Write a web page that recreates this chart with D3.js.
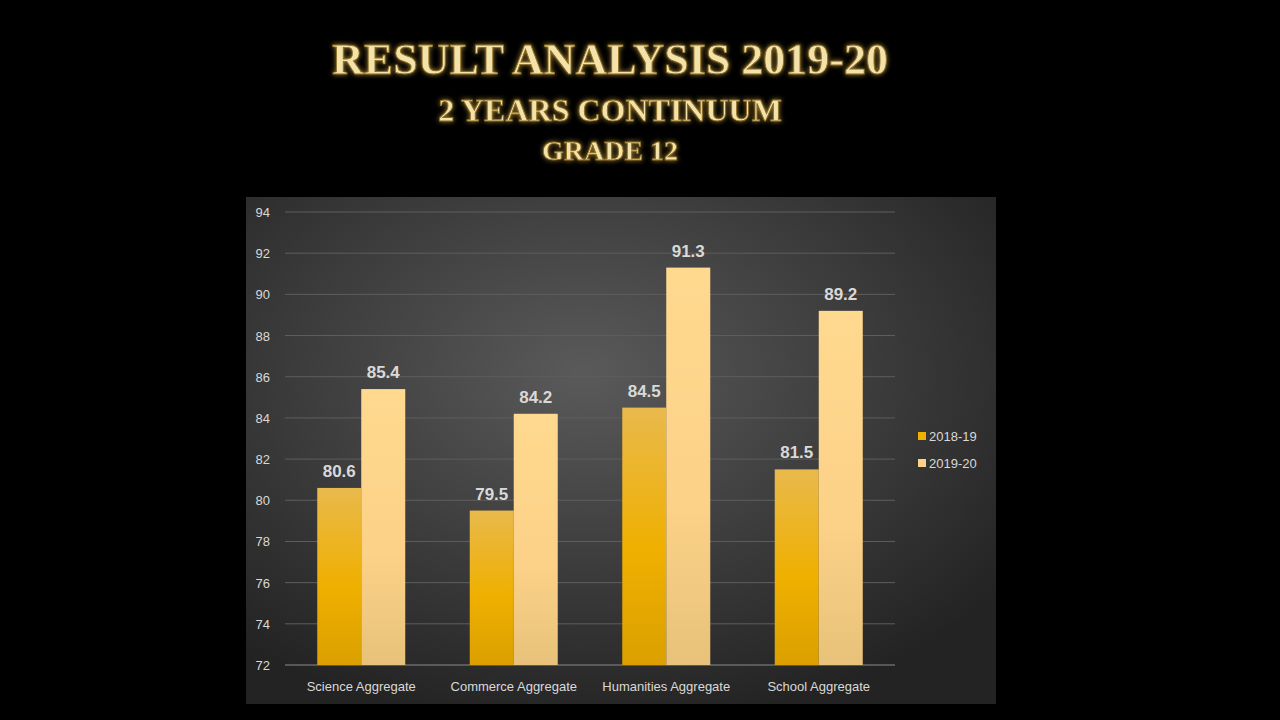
<!DOCTYPE html>
<html><head><meta charset="utf-8">
<script src="https://cdn.jsdelivr.net/npm/d3@7"></script>
<style>body{margin:0;background:#000}</style>
</head><body>
<svg width="1280" height="720"></svg>
<script>
// chart data
const categories = ["Science Aggregate", "Commerce Aggregate", "Humanities Aggregate", "School Aggregate"];
const seriesNames = ["2018-19", "2019-20"];
const values1819 = [80.6, 79.5, 84.5, 81.5];
const values1920 = [85.4, 84.2, 91.3, 89.2];
const yTicks = [72, 74, 76, 78, 80, 82, 84, 86, 88, 90, 92, 94];

const svg = d3.select("svg");
const defs = svg.append("defs");

const bg = defs.append("radialGradient").attr("id", "bg").attr("cx", "45%").attr("cy", "35%").attr("r", "70%");
bg.append("stop").attr("offset", "0%").attr("stop-color", "#5a5a5a");
bg.append("stop").attr("offset", "100%").attr("stop-color", "#232323");

const g1 = defs.append("linearGradient").attr("id", "g1").attr("x1", 0).attr("x2", 0).attr("y1", 0).attr("y2", 1);
g1.append("stop").attr("offset", "0%").attr("stop-color", "#e9b94c");
g1.append("stop").attr("offset", "55%").attr("stop-color", "#efb000");
g1.append("stop").attr("offset", "100%").attr("stop-color", "#dba000");
const g2 = defs.append("linearGradient").attr("id", "g2").attr("x1", 0).attr("x2", 0).attr("y1", 0).attr("y2", 1);
g2.append("stop").attr("offset", "0%").attr("stop-color", "#ffd98f");
g2.append("stop").attr("offset", "60%").attr("stop-color", "#fcd188");
g2.append("stop").attr("offset", "100%").attr("stop-color", "#e8c27a");

const glow = defs.append("filter").attr("id", "glow").attr("x", "-10%").attr("y", "-30%").attr("width", "120%").attr("height", "160%");
glow.append("feGaussianBlur").attr("stdDeviation", 2.5).attr("in", "SourceAlpha").attr("result", "b");
glow.append("feFlood").attr("flood-color", "#c9a040").attr("flood-opacity", 0.8);
glow.append("feComposite").attr("in2", "b").attr("operator", "in").attr("result", "gl");
const m = glow.append("feMerge");
m.append("feMergeNode").attr("in", "gl");
m.append("feMergeNode").attr("in", "SourceGraphic");

// titles
const titles = [
  {t: "RESULT ANALYSIS 2019-20", y: 74, s: 44},
  {t: "2 YEARS  CONTINUUM", y: 121, s: 32},
  {t: "GRADE 12", y: 160, s: 28}
];
svg.selectAll("text.title").data(titles).join("text")
  .attr("class", "title")
  .attr("x", 610).attr("y", d => d.y)
  .attr("text-anchor", "middle")
  .attr("font-family", "Liberation Serif, serif").attr("font-weight", "bold")
  .attr("font-size", d => d.s)
  .attr("fill", "#f3e2a9").attr("stroke", "#8a6a20").attr("stroke-width", 0.8)
  .attr("filter", "url(#glow)")
  .text(d => d.t);

// panel
svg.append("rect").attr("x", 246).attr("y", 197).attr("width", 750).attr("height", 507).attr("fill", "url(#bg)");

const x0 = d3.scaleBand().domain(categories).range([285, 895]);
const x1 = d3.scaleBand().domain(seriesNames).range([0, 88]);
const y = d3.scaleLinear().domain([72, 94]).range([665, 212]);

const grid = svg.append("g");
grid.selectAll("line").data(yTicks).join("line")
  .attr("x1", 285).attr("x2", 895).attr("y1", d => y(d)).attr("y2", d => y(d))
  .attr("stroke", d => d === 72 ? "#8a8a8a" : "#5e5e5e").attr("stroke-width", 1);
grid.selectAll("text").data(yTicks).join("text")
  .attr("x", 270).attr("y", d => y(d) + 5).attr("text-anchor", "end")
  .attr("font-family", "Liberation Sans, Arial").attr("font-size", 13).attr("fill", "#d9d9d9")
  .text(d => d);

const series = [values1819, values1920];
series.forEach((vals, si) => {
  const g = svg.append("g");
  const rows = categories.map((c, i) => ({c, v: vals[i]}));
  g.selectAll("rect").data(rows).join("rect")
    .attr("x", d => x0(d.c) + x0.bandwidth() / 2 - 44 + x1(seriesNames[si]))
    .attr("width", x1.bandwidth())
    .attr("y", d => y(d.v)).attr("height", d => y(72) - y(d.v))
    .attr("fill", si === 0 ? "url(#g1)" : "url(#g2)");
  g.selectAll("text").data(rows).join("text")
    .attr("x", d => x0(d.c) + x0.bandwidth() / 2 - 44 + x1(seriesNames[si]) + x1.bandwidth() / 2)
    .attr("y", d => y(d.v) - 11).attr("text-anchor", "middle")
    .attr("font-family", "Liberation Sans, Arial").attr("font-weight", "bold").attr("font-size", 17)
    .attr("fill", "#d9d9d9").text(d => d.v);
});

svg.append("g").selectAll("text").data(categories).join("text")
  .attr("x", d => x0(d) + x0.bandwidth() / 2).attr("y", 691).attr("text-anchor", "middle")
  .attr("font-family", "Liberation Sans, Arial").attr("font-size", 13).attr("fill", "#d9d9d9")
  .text(d => d);

// legend
const leg = svg.append("g").selectAll("g").data(seriesNames).join("g")
  .attr("transform", (d, i) => `translate(918,${432 + i * 27})`);
leg.append("rect").attr("width", 8).attr("height", 8).attr("fill", (d, i) => i ? "#fcd188" : "#efb000");
leg.append("text").attr("x", 11).attr("y", 9).attr("font-family", "Liberation Sans, Arial")
  .attr("font-size", 13).attr("fill", "#d9d9d9").text(d => d);
</script>
</body></html>
